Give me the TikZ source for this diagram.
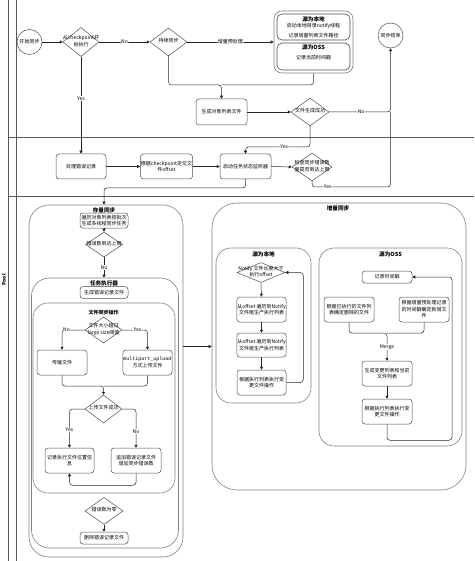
\documentclass[tikz,border=0pt]{standalone}
\usepackage{fontspec}
\setmainfont{Noto Sans CJK SC}
\setmonofont{Liberation Mono}
\usetikzlibrary{shapes.geometric,arrows.meta,calc}
\newcommand\fs{\fontsize{5}{6.5}\selectfont}
\newcommand\fsb{\fontsize{5.6}{6.5}\selectfont\bfseries}
\newcommand\dtx[1]{\makebox[0pt]{\smash{\raisebox{-0.3ex}{\begin{tabular}{@{}c@{}}#1\end{tabular}}}}}
\tikzset{
  box/.style={draw=black!70, rounded corners=3pt, line width=0.5pt, align=center, inner sep=0.5pt, font=\fs},
  dia/.style={draw=black!70, diamond, line width=0.5pt, inner sep=0pt, font=\fs},
  rnd/.style={draw=black!70, circle, line width=0.5pt, inner sep=0pt, minimum size=25pt, font=\fs},
  cont/.style={draw=black!50, line width=0.6pt, rounded corners=#1, inner sep=0pt},
  edge/.style={draw=black!85, line width=0.5pt, rounded corners=3pt, -{Triangle[length=3pt,width=3pt]}},
  plain/.style={draw=black!85, line width=0.5pt, rounded corners=3pt},
  lbl/.style={font=\fs, fill=white, inner sep=0.5pt},
  ttl/.style={font=\fsb, inner sep=0pt},
  txt/.style={font=\fs, inner sep=0pt},
  pool/.style={draw=black!65, line width=0.7pt},
}
\begin{document}
\begin{tikzpicture}[x=1pt,y=-1pt]
\useasboundingbox (0,0) rectangle (474,561);
% pool structure
\draw[pool] (8,0) -- (8,561);
\draw[pool] (16.5,0) -- (16.5,561);
\draw[pool] (8,137) -- (474,137);
\draw[pool] (8,196) -- (474,196);
\node[font=\fontsize{5}{6}\selectfont\bfseries, rotate=90, inner sep=0pt] (pooltitle) at (4,280) {Pool};

% helper coordinates
\coordinate (y85) at (0,85);
\coordinate (y147) at (0,147);
\coordinate (y187) at (0,187);
\coordinate (y188) at (0,188);
\coordinate (x104) at (104,0);
\coordinate (y386) at (0,386);
\coordinate (y333) at (0,333);

% lane 1
\node[rnd] (start) at (29.5,42) {开始同步};
\node[dia, minimum width=36pt, minimum height=29pt] (d1) at (81,42) {\dtx{从checkpoint开\\始执行}};
\node[dia, minimum width=37pt, minimum height=28pt] (d2) at (168.5,42) {\dtx{持续同步}};
\node[cont=8pt, minimum width=79pt, minimum height=62pt] (grp) at (313.5,42) {};
\node[cont=5pt, minimum width=73pt, minimum height=26pt, draw=black!70] (grpl) at (313.5,27) {};
\node[cont=5pt, minimum width=73pt, minimum height=27pt, draw=black!70] (grpo) at (313.5,56.5) {};
\node[ttl] (tgl) at (313.5,19) {源为本地};
\node[txt] (tgl1) at (313.5,25.8) {启动本地目录notify线程};
\node[txt] (tgl2) at (313.5,35.7) {记录增量列表文件路径};
\node[ttl] (tgo) at (313.5,47.7) {源为OSS};
\node[txt] (tgo1) at (313.5,57.3) {记录当前时间戳};
\node[box, minimum width=51pt, minimum height=26pt] (objlist) at (221.5,112) {生成对象列表文件};
\node[dia, minimum width=38pt, minimum height=28pt] (d3) at (310,112) {\dtx{文件生成成功}};
\node[rnd] (end) at (390.5,35.5) {同步结束};

% lane 2
\node[box, minimum width=50pt, minimum height=25pt] (procerr) at (81,166.5) {处理错误记录};
\node[box, minimum width=49pt, minimum height=25pt] (chk) at (166.5,166.5) {根据checkpoint定位文\\件offset};
\node[box, minimum width=51pt, minimum height=25pt] (listener) at (245.5,166.5) {启动任务状态监听器};
\node[dia, minimum width=40pt, minimum height=28pt] (d4) at (312,167) {\dtx{检查同步错误数\\量是否到达上限}};

% lane 3 containers
\node[cont=20pt, minimum width=154pt, minimum height=352pt] (stock) at (106,381) {};
\node[cont=18pt, minimum width=147pt, minimum height=270pt] (exec) at (105,413) {};
\node[cont=15pt, minimum width=142pt, minimum height=190pt] (fsync) at (104,398) {};
\node[cont=25pt, minimum width=254pt, minimum height=287pt] (incr) at (339,346.5) {};
\node[cont=15pt, minimum width=95pt, minimum height=155pt] (local) at (263.5,325.5) {};
\node[cont=15pt, minimum width=143pt, minimum height=198pt] (oss) at (390.5,347) {};

\node[ttl] (tstock) at (104,210) {存量同步};
\node[ttl] (texec) at (104,283) {任务执行器};
\node[txt, font=\fontsize{5}{6}\selectfont\bfseries] (tfsync) at (103.5,313) {文件同步操作};
\node[ttl] (tincr) at (338,208.5) {增量同步};
\node[ttl] (tlocal) at (263.5,254) {源为本地};
\node[ttl] (toss) at (390.5,254) {源为OSS};

% stock sync
\node[box, minimum width=48pt, minimum height=15pt] (trav) at (104,220.5) {遍历对象列表按批次\\生成多线程同步任务};
\node[dia, minimum width=37pt, minimum height=25pt] (d5) at (104,244.5) {\dtx{错误数到达上限}};
\node[box, minimum width=48pt, minimum height=12pt] (generr) at (104,292.5) {生成错误记录文件};
\node[dia, minimum width=37pt, minimum height=26pt] (d6) at (103.5,330) {\dtx{文件大小超过\\large size阈值}};
\node[box, minimum width=50pt, minimum height=25pt] (transfer) at (62,362.5) {传输文件};
\node[box, minimum width=49pt, minimum height=25pt] (multi) at (147.5,362.5) {\texttt{multipart\_upload}\\方式上传文件};
\node[dia, minimum width=37pt, minimum height=28pt] (d7) at (103.5,409) {\dtx{上传文件成功}};
\node[box, minimum width=49pt, minimum height=25pt] (recpos) at (69.5,460.5) {记录执行文件位置信\\息};
\node[box, minimum width=50pt, minimum height=25pt] (adderr) at (136,460.5) {追加错误记录文件\\增加同步错误数};
\node[dia, minimum width=38pt, minimum height=27pt] (d8) at (104,511) {\dtx{错误数为零}};
\node[box, minimum width=48pt, minimum height=12pt] (delerr) at (104,538) {删除错误记录文件};

% incremental: local
\node[dia, minimum width=48pt, minimum height=20pt] (d9) at (261,272.5) {\dtx{Notify 文件长度大于\\执行offset}};
\node[box, minimum width=49pt, minimum height=25pt] (l1) at (261.5,309.5) {从offset 遍历到Notify\\文件尾生产执行列表};
\node[box, minimum width=49pt, minimum height=24pt] (l2) at (261.5,345) {从offset 遍历到Notify\\文件尾生产执行列表};
\node[box, minimum width=49pt, minimum height=25pt] (l3) at (261.5,382.5) {根据执行列表执行变\\更文件操作};

% incremental: oss
\node[box, minimum width=50pt, minimum height=12pt] (ts) at (387,277) {记录时间戳};
\node[box, minimum width=50pt, minimum height=25pt] (o1) at (349,309.5) {根据已执行的文件列\\表确定删除的文件};
\node[box, minimum width=50pt, minimum height=25pt] (o2) at (424,309.5) {根据增量预处理记录\\的时间戳确定新增文\\件};
\node[box, minimum width=50pt, minimum height=25pt] (o3) at (387,373.5) {生成变更列表和当前\\文件列表};
\node[box, minimum width=50pt, minimum height=25pt] (o4) at (387,411.5) {根据执行列表执行变\\更文件操作};

% connectors lane 1
\draw[edge] (start) -- (d1);
\draw[edge] (d1.east) -- node[lbl] {No} (d2.west);
\draw[edge] (d2.east) -- node[lbl] {增量预处理} (grp.west);
\draw[edge] (d2.south) |- (objlist.north |- y85) -- (objlist.north);
\draw[plain] (grp.south) |- (objlist.north |- y85);
\draw[edge] (objlist.east) -- (d3.west);
\draw[edge] (d3.east) -| node[lbl, pos=0.26] {No} (end.south);
\draw[edge] (d3.south) |- (listener.north |- y147) node[lbl, pos=0.7] {Yes} -- (listener.north);
\draw[edge] (d1.south) -- node[lbl, pos=0.43] {Yes} (procerr.north);

% lane 2
\draw[edge] (procerr) -- (chk);
\draw[edge] (chk) -- (listener);
\draw[edge] (listener.east) -- (d4.west);
\draw[plain] (d4.south) |- node[lbl, pos=0.6] {Yes} (end.south |- y187) -- (end.south |- d3.east);
\draw[edge] (listener.south) |- (x104 |- y188) -- (x104 |- stock.north);

% lane 3
\draw[edge] (stock.east |- incr.west) -- (incr.west);
\draw[edge] (trav) -- (d5);
\draw[edge] (d5.south) -- node[lbl] {No} (d5.south |- exec.north);
\draw[edge] (d6.west) -| node[lbl, pos=0.4] {No} (transfer.north);
\draw[edge] (d6.east) -| node[lbl, pos=0.3] {Yes} (multi.north);
\draw[edge] (transfer.south) |- (d7.north |- y386) -- (d7.north);
\draw[plain] (multi.south) |- (d7.north |- y386);
\draw[edge] (d7.west) -| node[lbl, pos=0.77] {Yes} (recpos.north);
\draw[edge] (d7.east) -| node[lbl, pos=0.79] {No} (adderr.north);
\draw[edge] (adderr.south) -- ++(0,12) -| (recpos.south);
\draw[edge] (d8) -- (delerr);

\draw[edge] (d9) -- (l1);
\draw[edge] (l1) -- (l2);
\draw[edge] (l2) -- (l3);
\draw[edge] (l3.east) -- ++(17,0) |- (d9.east);

\draw[edge] (o1.south) |- (o3.north |- y333) -- node[lbl, pos=0.5] {Merge} (o3.north);
\draw[plain] (o2.south) |- (o3.north |- y333);
\draw[edge] (o3) -- (o4);
\draw[edge] (o4.south) -- ++(0,16) -- ++(65,0) |- (ts.east);
\end{tikzpicture}
\end{document}
